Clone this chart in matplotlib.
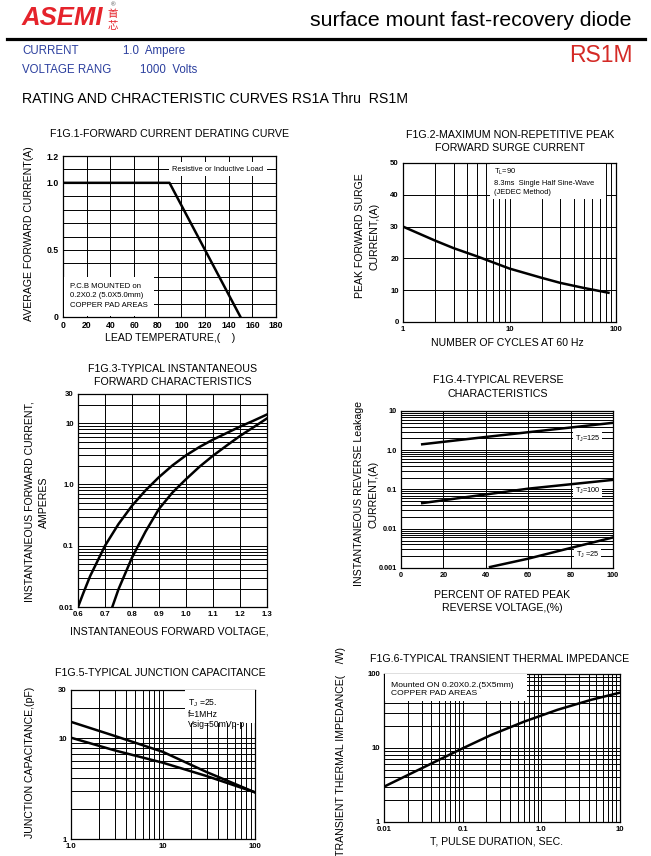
import numpy as np
import matplotlib
matplotlib.use('Agg')
import matplotlib.pyplot as plt
from matplotlib.patches import Rectangle
from matplotlib.ticker import LogLocator, NullFormatter

plt.rcParams['font.family'] = ['Liberation Sans', 'Noto Sans CJK SC', 'DejaVu Sans']
plt.rcParams['mathtext.fontset'] = 'custom'
plt.rcParams['mathtext.rm'] = 'Liberation Sans'

W, H = 651, 856

# ---- data ----
# Fig.1 forward current derating
lead_temp = [0, 90, 150]
avg_current = [1.0, 1.0, 0.0]

# Fig.2 peak forward surge current
cycles = [1, 2, 3, 5, 10, 20, 30, 50, 85]
surge_current = [30, 25.6, 23.2, 20.6, 16.8, 13.9, 12.3, 10.7, 9.2]

# Fig.3 forward characteristics (two curves)
vf_a = [0.60, 0.62, 0.645, 0.70, 0.75, 0.80, 0.85, 0.90, 0.95, 1.00, 1.05, 1.10, 1.15, 1.20, 1.25, 1.30]
if_a = [0.01, 0.017, 0.032, 0.10, 0.226, 0.45, 0.80, 1.32, 2.05, 2.99, 4.1, 5.4, 6.9, 8.8, 11.0, 13.9]
vf_b = [0.727, 0.75, 0.80, 0.85, 0.90, 0.95, 1.00, 1.05, 1.10, 1.15, 1.20, 1.25, 1.30]
if_b = [0.01, 0.0195, 0.064, 0.17, 0.40, 0.74, 1.22, 1.95, 2.95, 4.3, 6.2, 8.6, 12.0]

# Fig.4 reverse leakage
pct_125 = [10, 40, 60, 100]
ir_125 = [1.42, 2.18, 2.88, 5.0]
pct_100 = [10, 60, 100]
ir_100 = [0.045, 0.105, 0.176]
pct_25 = [42, 60, 80, 100]
ir_25 = [0.00106, 0.00173, 0.00324, 0.006]

# Fig.5 junction capacitance
bias_v = [1, 3, 10, 30, 100]
cap_upper = [14.5, 10.5, 7.3, 4.6, 2.9]
cap_lower = [10.1, 7.55, 5.7, 4.2, 2.9]

# Fig.6 transient thermal impedance
pulse_t = [0.01, 0.02, 0.054, 0.1, 0.23, 0.61, 1.6, 4.3, 10]
thermal_z = [3.0, 4.3, 7.2, 9.9, 15, 22.8, 32.8, 44.8, 56]


def px_axes(fig, l, t, r, b):
    return fig.add_axes([l / W, 1 - b / H, (r - l) / W, (b - t) / H])


def style(ax, tsize):
    ax.set_facecolor('white')
    ax.grid(True, which='both', color='black', lw=0.7)
    ax.set_axisbelow(True)
    ax.tick_params(which='both', length=0, labelsize=tsize, pad=3)
    for lab in ax.get_xticklabels() + ax.get_yticklabels():
        lab.set_fontweight('bold')
    for s in ax.spines.values():
        s.set_linewidth(0.9)


def log_minor(axis):
    axis.set_minor_locator(LogLocator(base=10, subs=np.arange(2, 10), numticks=20))
    axis.set_minor_formatter(NullFormatter())


def ftext(x, y, s, **kw):
    fig.text(x / W, 1 - y / H, s, **kw)


fig = plt.figure(figsize=(W / 100, H / 100), dpi=100)

# ---- header ----
red = '#e5232b'
ftext(22, 18, 'ASEMI', color=red, fontsize=18.5, fontweight='bold',
      fontstyle='italic', va='center', ha='left')
ftext(113, 5, '®', color='#444444', fontsize=4.5, va='center', ha='center')
ftext(113, 14, '首', color=red, fontsize=7.5, va='center', ha='center')
ftext(113, 26, '芯', color=red, fontsize=7.5, va='center', ha='center')
ftext(632, 21, 'surface mount fast-recovery diode', fontsize=15.3, va='center', ha='right')
fig.add_artist(plt.Line2D([7 / W, 645 / W], [1 - 38.5 / H, 1 - 38.5 / H], color='black', lw=2.3))
blue = '#2b3f9e'
ftext(22, 51, 'CURRENT', color=blue, fontsize=8.3, va='center')
ftext(123, 51, '1.0  Ampere', color=blue, fontsize=8.3, va='center')
ftext(22, 70, 'VOLTAGE RANG', color=blue, fontsize=8.3, va='center')
ftext(140, 70, '1000  Volts', color=blue, fontsize=8.3, va='center')
ftext(633, 55, 'RS1M', color='#d42a26', fontsize=16.5, va='center', ha='right')
ftext(22, 99, 'RATING AND CHRACTERISTIC CURVES RS1A Thru  RS1M', fontsize=10.2, va='center')

TS = 7.7   # title size
LS = 7.6   # axis label size

# ---- Fig.1 ----
ax1 = px_axes(fig, 63, 156, 276, 317)
ax1.plot(lead_temp, avg_current, color='black', lw=1.8, zorder=5)
ax1.set_xlim(0, 180)
ax1.set_ylim(0, 1.2)
ax1.set_xticks(range(0, 181, 20))
ax1.set_yticks([0, 0.5, 1.0, 1.2])
ax1.set_yticklabels(['0', '0.5', '1.0', '1.2'])
ax1.set_yticks(np.arange(0, 1.21, 0.1), minor=True)
style(ax1, 6.2)
ax1.add_patch(Rectangle((0.8, 0.004), 76, 0.295, fc='white', ec='none', zorder=3))
ax1.text(6, 0.157, 'P.C.B MOUNTED on\n0.2X0.2 (5.0X5.0mm)\nCOPPER PAD AREAS', fontsize=5.6,
         va='center', ha='left', linespacing=1.55, zorder=4)
ax1.text(131, 1.1, 'Resistive or Inductive Load', fontsize=5.4, va='center', ha='center', zorder=4,
         bbox=dict(fc='white', ec='none', pad=2.5))
ftext(170, 134, 'F1G.1-FORWARD CURRENT DERATING CURVE', fontsize=TS, ha='center', va='center')
ftext(170, 338, 'LEAD TEMPERATURE,(    )', fontsize=LS, ha='center', va='center')
ftext(29, 234, 'AVERAGE FORWARD CURRENT(A)', fontsize=LS, ha='center', va='center', rotation=90)

# ---- Fig.2 ----
ax2 = px_axes(fig, 403, 163, 616, 322)
ax2.plot(cycles, surge_current, color='black', lw=1.8, zorder=5)
ax2.set_xscale('log')
ax2.set_xlim(1, 100)
ax2.set_ylim(0, 50)
ax2.set_xticks([1, 10, 100])
ax2.set_xticklabels(['1', '10', '100'])
log_minor(ax2.xaxis)
ax2.set_yticks(range(0, 51, 10))
style(ax2, 5.6)
ax2.add_patch(Rectangle((6.5, 38.8), 74.5, 11.0, fc='white', ec='none', zorder=3))
ax2.text(7.1, 44.2, 'T$_\\mathregular{L}$=90\n8.3ms  Single Half Sine-Wave\n(JEDEC Method)', fontsize=5.4,
         va='center', ha='left', linespacing=1.55, zorder=4)
ftext(510, 135, 'F1G.2-MAXIMUM NON-REPETITIVE PEAK', fontsize=TS, ha='center', va='center')
ftext(510, 148, 'FORWARD SURGE CURRENT', fontsize=TS, ha='center', va='center')
ftext(507, 343, 'NUMBER OF CYCLES AT 60 Hz', fontsize=LS, ha='center', va='center')
ftext(367, 236, 'PEAK FORWARD SURGE\nCURRENT,(A)', fontsize=LS, ha='center', va='center',
      rotation=90, linespacing=1.6)

# ---- Fig.3 ----
ax3 = px_axes(fig, 78, 394, 267, 607)
ax3.plot(vf_a, if_a, color='black', lw=1.8, zorder=5)
ax3.plot(vf_b, if_b, color='black', lw=1.8, zorder=5)
ax3.set_yscale('log')
ax3.set_xlim(0.6, 1.3)
ax3.set_ylim(0.01, 30)
ax3.set_xticks(np.round(np.arange(0.6, 1.31, 0.1), 1))
ax3.set_xticklabels(['0.6', '0.7', '0.8', '0.9', '1.0', '1.1', '1.2', '1.3'])
ax3.set_yticks([0.01, 0.1, 1, 10, 30])
ax3.set_yticklabels(['0.01', '0.1', '1.0', '10', '30'])
log_minor(ax3.yaxis)
style(ax3, 5.6)
ftext(173, 369, 'F1G.3-TYPICAL INSTANTANEOUS', fontsize=TS, ha='center', va='center')
ftext(173, 382, 'FORWARD CHARACTERISTICS', fontsize=TS, ha='center', va='center')
ftext(169, 632, 'INSTANTANEOUS FORWARD VOLTAGE,', fontsize=LS, ha='center', va='center')
ftext(37, 502, 'INSTANTANEOUS FORWARD CURRENT,\nAMPERES', fontsize=LS, ha='center', va='center',
      rotation=90, linespacing=1.6)

# ---- Fig.4 ----
ax4 = px_axes(fig, 401, 411, 613, 568)
ax4.plot(pct_125, ir_125, color='black', lw=1.8, zorder=5)
ax4.plot(pct_100, ir_100, color='black', lw=1.8, zorder=5)
ax4.plot(pct_25, ir_25, color='black', lw=1.8, zorder=5)
ax4.set_yscale('log')
ax4.set_xlim(0, 100)
ax4.set_ylim(0.001, 10)
ax4.set_xticks(range(0, 101, 20))
ax4.set_yticks([0.001, 0.01, 0.1, 1, 10])
ax4.set_yticklabels(['0.001', '0.01', '0.1', '1.0', '10'])
log_minor(ax4.yaxis)
style(ax4, 5.3)
for ylab, txt in [(2.0, 'T$_\\mathregular{J}$=125'), (0.092, 'T$_\\mathregular{J}$=100'),
                  (0.0022, 'T$_\\mathregular{J}$ =25')]:
    ax4.text(88, ylab, txt, fontsize=5.3, ha='center', va='center', zorder=4,
             bbox=dict(fc='white', ec='none', pad=1.5))
ftext(498, 380, 'F1G.4-TYPICAL REVERSE', fontsize=TS, ha='center', va='center')
ftext(498, 394, 'CHARACTERISTICS', fontsize=TS, ha='center', va='center')
ftext(502, 595, 'PERCENT OF RATED PEAK', fontsize=LS, ha='center', va='center')
ftext(502, 608, 'REVERSE VOLTAGE,(%)', fontsize=LS, ha='center', va='center')
ftext(366, 494, 'INSTANTANEOUS REVERSE Leakage\nCURRENT,(A)', fontsize=LS, ha='center', va='center',
      rotation=90, linespacing=1.6)

# ---- Fig.5 ----
ax5 = px_axes(fig, 71, 690, 255, 839)
ax5.plot(bias_v, cap_upper, color='black', lw=1.8, zorder=5)
ax5.plot(bias_v, cap_lower, color='black', lw=1.8, zorder=5)
ax5.set_xscale('log')
ax5.set_yscale('log')
ax5.set_xlim(1, 100)
ax5.set_ylim(1, 30)
ax5.set_xticks([1, 10, 100])
ax5.set_xticklabels(['1.0', '10', '100'])
ax5.set_yticks([1, 10, 30])
ax5.set_yticklabels(['1', '10', '30'])
log_minor(ax5.xaxis)
log_minor(ax5.yaxis)
style(ax5, 5.6)
ax5.add_patch(Rectangle((17.4, 14.0), 82, 15.9, fc='white', ec='none', zorder=3))
ax5.text(18.5, 17.7, 'T$_\\mathregular{J}$ =25.\nf=1MHz\nVsig=50mVp-p', fontsize=6.2,
         va='center', ha='left', linespacing=1.15, zorder=4)
ftext(160, 673, 'F1G.5-TYPICAL JUNCTION CAPACITANCE', fontsize=TS, ha='center', va='center')
ftext(30, 762, 'JUNCTION CAPACITANCE,(pF)', fontsize=LS, ha='center', va='center', rotation=90)

# ---- Fig.6 ----
ax6 = px_axes(fig, 384, 674, 620, 822)
ax6.plot(pulse_t, thermal_z, color='black', lw=1.8, zorder=5)
ax6.set_xscale('log')
ax6.set_yscale('log')
ax6.set_xlim(0.01, 10)
ax6.set_ylim(1, 100)
ax6.set_xticks([0.01, 0.1, 1, 10])
ax6.set_xticklabels(['0.01', '0.1', '1.0', '10'])
ax6.set_yticks([1, 10, 100])
ax6.set_yticklabels(['1', '10', '100'])
log_minor(ax6.xaxis)
log_minor(ax6.yaxis)
style(ax6, 5.6)
ax6.add_patch(Rectangle((0.0102, 42.5), 0.64, 57, fc='white', ec='none', zorder=3))
ax6.text(0.0124, 62, 'Mounted ON 0.20X0.2.(5X5mm)\nCOPPER PAD AREAS', fontsize=6.1,
         va='center', ha='left', linespacing=1.3, zorder=4)
ftext(500, 659, 'F1G.6-TYPICAL TRANSIENT THERMAL IMPEDANCE', fontsize=TS, ha='center', va='center')
ftext(496, 842, 'T, PULSE DURATION, SEC.', fontsize=LS, ha='center', va='center')
ftext(341, 752, 'TRANSIENT THERMAL IMPEDANCE(    /W)', fontsize=LS, ha='center', va='center',
      rotation=90)

fig.savefig('out.png', dpi=100, facecolor='white')
